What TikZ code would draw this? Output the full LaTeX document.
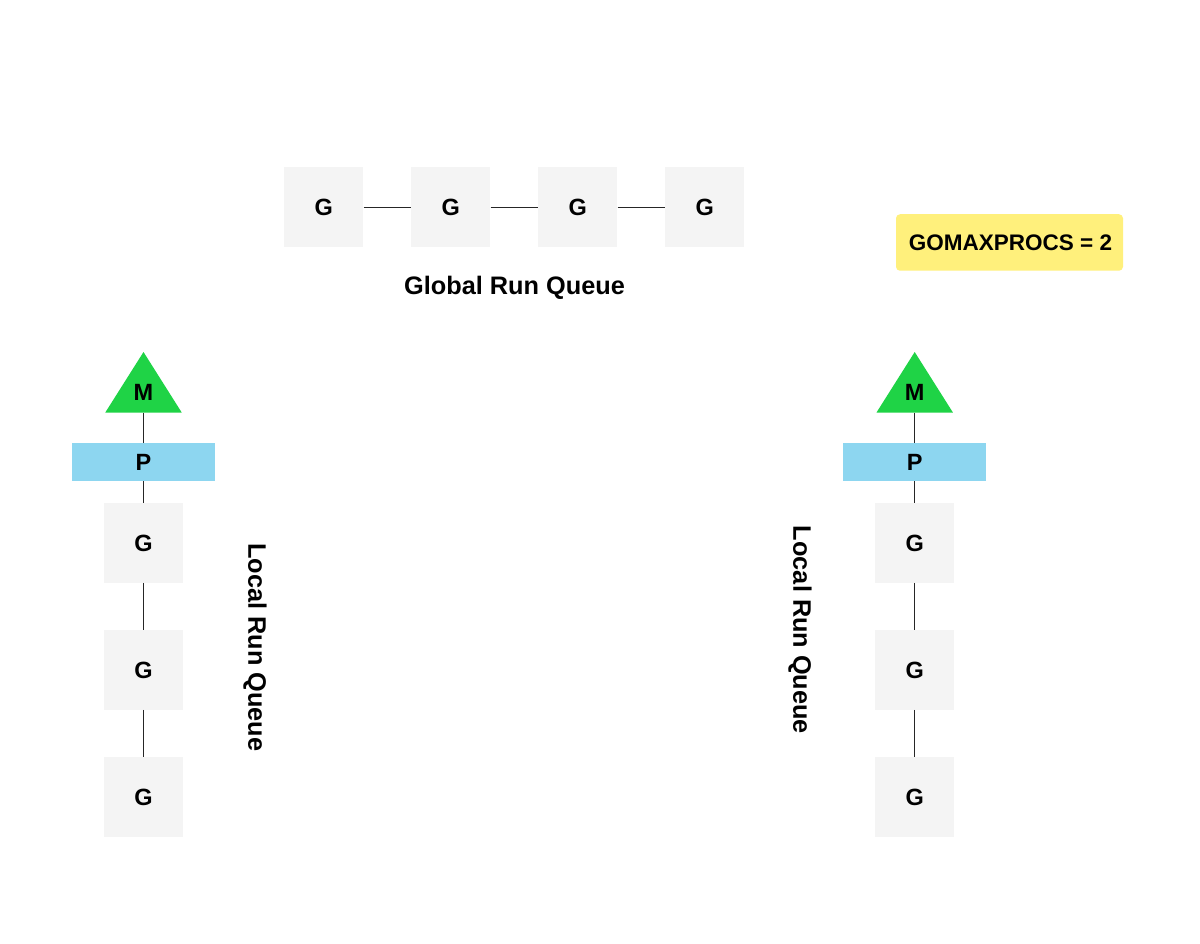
\documentclass[tikz,border=0pt]{standalone}
\usepackage{fontspec}
\setmainfont{Liberation Sans}
\definecolor{gbox}{HTML}{F4F4F4}
\definecolor{tri}{HTML}{1FD346}
\definecolor{pbox}{HTML}{8DD6F0}
\definecolor{ybox}{HTML}{FFF07C}
\tikzset{x=1pt,y=-1pt,
 letter/.style={font=\fontsize{23.5}{23.5}\selectfont\bfseries,inner sep=0pt},
 gnode/.style={letter,fill=gbox,minimum size=79.5pt},
 pnode/.style={letter,fill=pbox,minimum width=143pt,minimum height=38pt},
 lab/.style={font=\fontsize{25.3}{26}\selectfont\bfseries,inner sep=0pt},
 conn/.style={draw=black!85,line width=.8pt}}
\begin{document}
\begin{tikzpicture}
\useasboundingbox (0,0) rectangle (1200,944);
\fill[white] (0,0) rectangle (1200,944);
\foreach \n/\x in {a/143.5,b/914.7}{
 \coordinate (t\n) at (\x,352);
 \coordinate (l\n) at (\x-38.2,412.5);
 \coordinate (r\n) at (\x+38.2,412.5);
 \coordinate (mb\n) at (\x,412.5);
 \node[pnode] (p\n) at (\x,462) {P};
 \node[gnode] (g1\n) at (\x,543) {G};
 \node[gnode] (g2\n) at (\x,670) {G};
 \node[gnode] (g3\n) at (\x,797) {G};
 \draw[conn] (mb\n) -- (p\n.north);
 \draw[conn] (p\n.south) -- (g1\n.north);
 \draw[conn] (g1\n) -- (g2\n);
 \draw[conn] (g2\n) -- (g3\n);
 \fill[tri] (t\n) -- (r\n) -- (l\n) -- cycle;
 \node[letter] (m\n) at (\x,392.5) {M};
}
\node[gnode] (q1) at (323.7,207) {G};
\node[gnode] (q2) at (450.7,207) {G};
\node[gnode] (q3) at (577.7,207) {G};
\node[gnode] (q4) at (704.7,207) {G};
\draw[conn] (q1) -- (q2);
\draw[conn] (q2) -- (q3);
\draw[conn] (q3) -- (q4);
\node[lab] (gl) at (514.5,288) {Global Run Queue};
\node[lab,rotate=-90] (l1) at (255,647.5) {Local Run Queue};
\node[lab,rotate=-90] (l2) at (800,630) {Local Run Queue};
\node[fill=ybox,rounded corners=4pt,minimum width=227pt,minimum height=56.5pt,inner sep=0pt,font=\fontsize{22.5}{24}\selectfont\bfseries] (gm) at (1009.5,242.5) {\hspace*{2pt}GOMAXPROCS = 2};
\end{tikzpicture}
\end{document}
